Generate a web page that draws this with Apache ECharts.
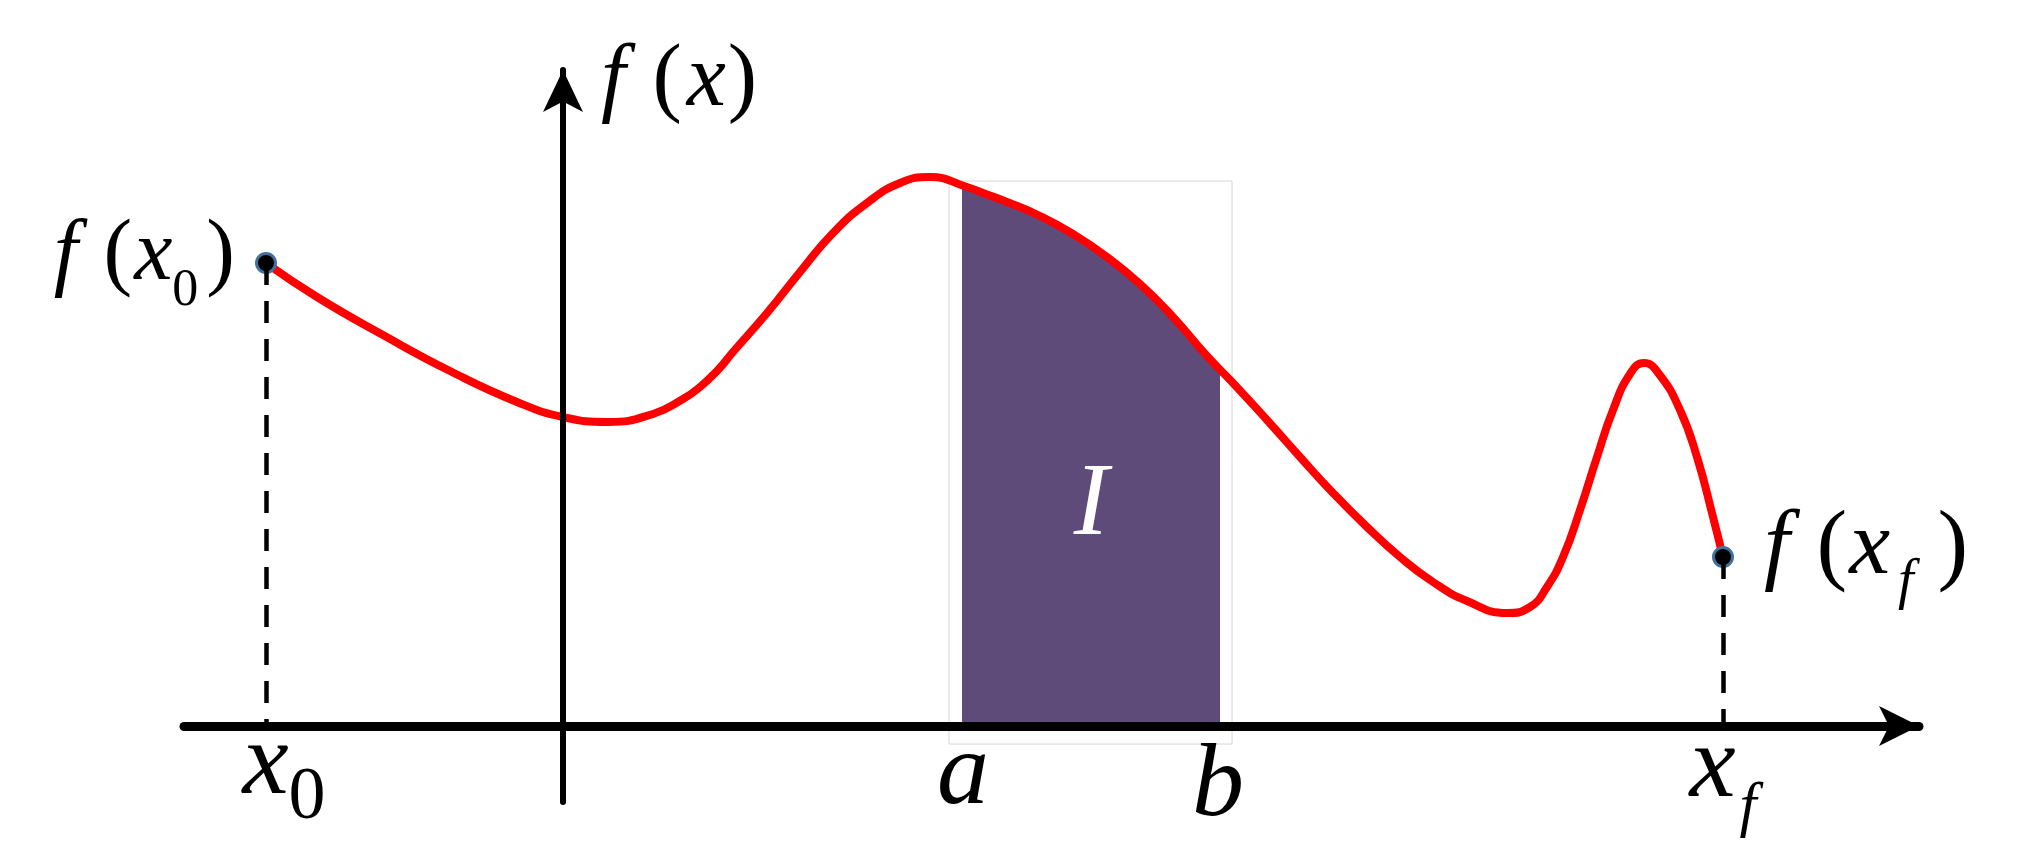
<!DOCTYPE html>
<html>
<head>
<meta charset="utf-8">
<script src="https://cdn.jsdelivr.net/npm/echarts@6/dist/echarts.min.js"></script>
<style>
html,body{margin:0;padding:0;background:#ffffff;}
#chart{width:2025px;height:868px;}
</style>
</head>
<body>
<div id="chart"></div>
<script>
// ---- data (1 unit = 100 px on both axes) ----
const curveX = [-2.97, -2.46, -1.80, -1.13, -0.46, 0.00, 0.45, 0.90, 1.20, 1.37, 1.54, 1.70, 2.04, 2.37, 2.70, 3.04, 3.37, 3.67, 4.04, 4.20, 4.44, 4.77, 5.10, 5.44, 5.77, 6.10, 6.44, 6.70, 7.04, 7.37, 7.70, 8.04, 8.37, 8.70, 9.04, 9.44, 9.67, 9.84, 10.00, 10.17, 10.34, 10.50, 10.67, 10.81, 10.96, 11.17, 11.34, 11.50, 11.60];
const curveY = [4.63, 4.29, 3.91, 3.55, 3.24, 3.09, 3.04, 3.12, 3.27, 3.39, 3.55, 3.74, 4.13, 4.54, 4.93, 5.23, 5.43, 5.49, 5.39, 5.33, 5.24, 5.10, 4.92, 4.69, 4.42, 4.09, 3.70, 3.43, 3.06, 2.69, 2.33, 1.99, 1.69, 1.44, 1.25, 1.13, 1.19, 1.39, 1.69, 2.16, 2.69, 3.16, 3.52, 3.63, 3.52, 3.16, 2.69, 2.09, 1.69];

const endpointX = [-2.97, 11.60];
const endpointY = [4.63, 1.69];

const shadeX = [3.99, 4.20, 4.44, 4.77, 5.10, 5.44, 5.77, 6.10, 6.44, 6.57];
const shadeY = [5.39, 5.33, 5.24, 5.10, 4.92, 4.69, 4.42, 4.09, 3.70, 3.56];

const frameX = [3.86, 6.69];
const frameY = [5.45, -0.18];

const tickValues = [-2.97, 3.99, 6.57, 11.59];
const tickNames = ['x0', 'a', 'b', 'xf'];
const areaName = 'I';

// ---- presentation ----
const SERIF = 'Liberation Serif';
const BLACK = '#000000';

const tickLabelText = {
  x0: '{m|x}{s0|0}',
  a: '{m|a}',
  b: '{m|b}',
  xf: '{m|x}{sf|f}'
};
const tickLabelOffset = {
  x0: [18, 40],
  a: [1, 50],
  b: [-2, 62],
  xf: [6, 43]
};
const tickRich = {
  m: {fontFamily: SERIF, fontStyle: 'italic', fontSize: 104, lineHeight: 104, color: BLACK},
  s0: {fontFamily: SERIF, fontSize: 74, lineHeight: 74, padding: [66, 0, 0, 0], color: BLACK},
  sf: {fontFamily: SERIF, fontStyle: 'italic', fontSize: 61, lineHeight: 61, padding: [79, 10, 0, 4], color: BLACK}
};

function fRich(size, sub, subPad, subItalic, fPad) {
  return {
    F: {fontFamily: SERIF, fontStyle: 'italic', fontSize: size, lineHeight: size, padding: [0, fPad, 0, 0], color: BLACK},
    P: {fontFamily: SERIF, fontSize: size, lineHeight: size, color: BLACK},
    X: {fontFamily: SERIF, fontStyle: 'italic', fontSize: size, lineHeight: size, padding: [0, 0, 0, 2], color: BLACK},
    S: {fontFamily: SERIF, fontStyle: subItalic ? 'italic' : 'normal', fontSize: sub, lineHeight: sub, padding: subPad, color: BLACK}
  };
}

const endpointLabels = [
  {show: true, position: 'left', distance: 20, offset: [0, -7], color: BLACK,
   formatter: '{F|f}{P|(}{X|x}{S|0}{P|)}', rich: fRich(86, 52, [71, 8, 0, 0], false, 26)},
  {show: true, position: 'right', distance: 30, offset: [0, -8], color: BLACK,
   formatter: '{F|f}{P|(}{X|x}{S|f}{P|)}', rich: fRich(92, 56, [68, 24, 0, 8], true, 27)}
];

const chart = echarts.init(document.getElementById('chart'), null, {renderer: 'canvas'});

const option = {
  backgroundColor: '#ffffff',
  animation: false,
  grid: {left: 184, right: 106, top: 70, bottom: 66, containLabel: false},
  xAxis: {
    type: 'value', min: -3.79, max: 13.56, z: 10,
    axisLine: {show: true, onZero: true, symbol: ['none', 'arrow'], symbolSize: [30, 40],
      lineStyle: {color: BLACK, width: 9}},
    axisTick: {show: false}, axisLabel: {show: false}, splitLine: {show: false}
  },
  yAxis: {
    type: 'value', min: -0.76, max: 6.56, z: 10,
    name: '{F|f}{P|(}{X|x}{P|)}',
    nameLocation: 'end', nameGap: -12,
    nameTextStyle: {align: 'left', verticalAlign: 'middle', padding: [0, 0, 0, 38],
      rich: Object.assign(fRich(88, 50, [0, 0, 0, 0], false, 27), {
        X: {fontFamily: SERIF, fontStyle: 'italic', fontSize: 88, lineHeight: 88, padding: [0, 2, 0, 5], color: BLACK}
      })},
    axisLine: {show: true, onZero: true, symbol: ['none', 'arrow'], symbolSize: [30, 42],
      lineStyle: {color: BLACK, width: 6}},
    axisTick: {show: false}, axisLabel: {show: false}, splitLine: {show: false}
  },
  series: [
    {
      name: 'integral',
      type: 'line',
      z: 1,
      smooth: 0.5,
      showSymbol: false,
      silent: true,
      data: shadeX.map((x, i) => [x, shadeY[i]]),
      lineStyle: {width: 0, color: '#5f4b7a'},
      areaStyle: {color: '#5f4b7a', opacity: 1},
      markArea: {
        silent: true,
        itemStyle: {color: 'rgba(0,0,0,0)', borderColor: '#d6d6d6', borderWidth: 1},
        data: [[{coord: [frameX[0], frameY[0]]}, {coord: [frameX[1], frameY[1]]}]]
      },
      markPoint: {
        silent: true,
        symbol: 'circle', symbolSize: 0,
        itemStyle: {color: 'rgba(0,0,0,0)', opacity: 1},
        label: {show: true, position: 'inside', formatter: areaName,
          fontFamily: SERIF, fontStyle: 'italic', fontSize: 104, color: '#ffffff'},
        data: [{coord: [(shadeX[0] + shadeX[shadeX.length - 1]) / 2, 2.19]}]
      }
    },
    {
      name: 'f',
      type: 'line',
      z: 3,
      smooth: 0.5,
      showSymbol: false,
      silent: true,
      data: curveX.map((x, i) => [x, curveY[i]]),
      lineStyle: {width: 8, color: '#ff0000', cap: 'round', join: 'round'}
    },
    {
      name: 'endpoints',
      type: 'scatter',
      z: 4,
      silent: true,
      symbolSize: 19,
      itemStyle: {color: BLACK, borderColor: '#41719c', borderWidth: 3, opacity: 1},
      data: endpointX.map((x, i) => ({value: [x, endpointY[i]], label: endpointLabels[i]})),
      markLine: {
        silent: true,
        symbol: ['none', 'none'],
        label: {show: false},
        lineStyle: {type: [22, 16], width: 4.5, color: BLACK, opacity: 1},
        data: endpointX.map((x, i) => [{coord: [x, endpointY[i]]}, {coord: [x, 0]}])
      }
    },
    {
      name: 'ticks',
      type: 'scatter',
      z: 4,
      silent: true,
      symbolSize: 0,
      itemStyle: {color: 'rgba(0,0,0,0)', opacity: 1},
      data: tickValues.map((v, i) => ({
        value: [v, 0],
        label: {show: true, position: 'inside', offset: tickLabelOffset[tickNames[i]], color: BLACK,
          formatter: tickLabelText[tickNames[i]], rich: tickRich}
      }))
    }
  ]
};

chart.setOption(option);
</script>
</body>
</html>
